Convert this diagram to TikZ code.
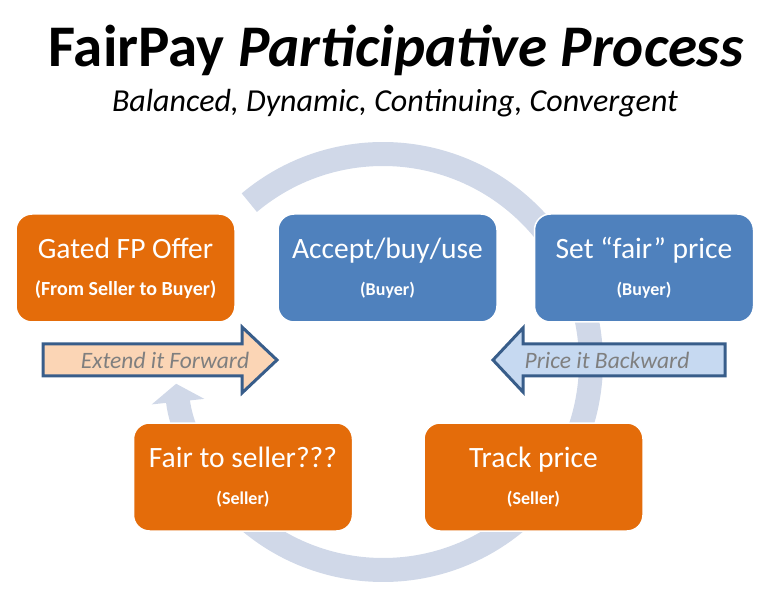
\documentclass[tikz,border=0pt]{standalone}
\usepackage{fontspec}
\setmainfont{Carlito}
\usetikzlibrary{positioning,arrows.meta}
\definecolor{fporange}{HTML}{E46C0A}
\definecolor{fpblue}{HTML}{4F81BD}
\definecolor{fpring}{HTML}{D0D8E8}
\definecolor{fpedge}{HTML}{385D8A}
\definecolor{fppeach}{HTML}{FBD5B5}
\definecolor{fpsky}{HTML}{C6D9F1}
\definecolor{fpgray}{HTML}{7F7F7F}
\newcommand{\stepmain}[1]{{\fontsize{29.5}{37}\selectfont\mdseries #1}}

\begin{document}
\begin{tikzpicture}[x=1pt,y=1pt,
    procbox/.style={draw=white, line width=1.5pt, rounded corners=16pt, minimum width=219pt, minimum height=108pt,
      text=white, align=center, inner sep=0pt, font=\fontsize{18}{37}\selectfont\bfseries},
    sellerbox/.style={procbox, fill=fporange},
    buyerbox/.style={procbox, fill=fpblue},
    blockarrow/.style={draw=fpedge, line width=3pt, line join=miter},
    arrowlabel/.style={text=fpgray, font=\fontsize{23.5}{26}\selectfont\itshape}]
    \useasboundingbox (0,0) rectangle (772,-604);
    % titolo
    \node[anchor=base] (title) at (396,-67) {\fontsize{59}{62}\selectfont\bfseries FairPay \itshape Participative Process};
    \node[anchor=base] (subtitle) at (395,-112) {\fontsize{32}{35}\selectfont\itshape Balanced, Dynamic, Continuing, Convergent};
    % anello di sfondo
    \coordinate (C) at (383,-362);
    \draw[fpring, line width=24pt, -{Triangle[width=52pt,length=18pt]}] (C) ++(130:208) arc[start angle=130, end angle=-174, radius=208];
    % frecce piene
    \draw[blockarrow, fill=fppeach] (43,-344) -- (242,-344) -- (242,-327) -- (277,-360) -- (242,-393) -- (242,-376) -- (43,-376) -- cycle;
    \node[arrowlabel] (fwd) at (165,-360) {Extend it Forward};
    \draw[blockarrow, fill=fpsky] (725,-344) -- (523,-344) -- (523,-328) -- (493,-360) -- (523,-392) -- (523,-376) -- (725,-376) -- cycle;
    \node[arrowlabel] (bwd) at (607,-360) {Price it Backward};
    % blocchi
    \node[sellerbox] (offer) at (125.5,-268) {\stepmain{Gated FP Offer}\\{\fontsize{20}{37}\selectfont(From Seller to Buyer)}};
    \node[buyerbox] (accept) at (387.5,-268) {\stepmain{Accept/buy/use}\\(Buyer)};
    \node[buyerbox] (setprice) at (644,-268) {\stepmain{Set \textquotedblleft fair\textquotedblright\ price}\\(Buyer)};
    \node[sellerbox] (fairseller) at (243,-477) {\stepmain{Fair to seller???}\\(Seller)};
    \node[sellerbox] (track) at (533.5,-477) {\stepmain{Track price}\\(Seller)};
\end{tikzpicture}
\end{document}
